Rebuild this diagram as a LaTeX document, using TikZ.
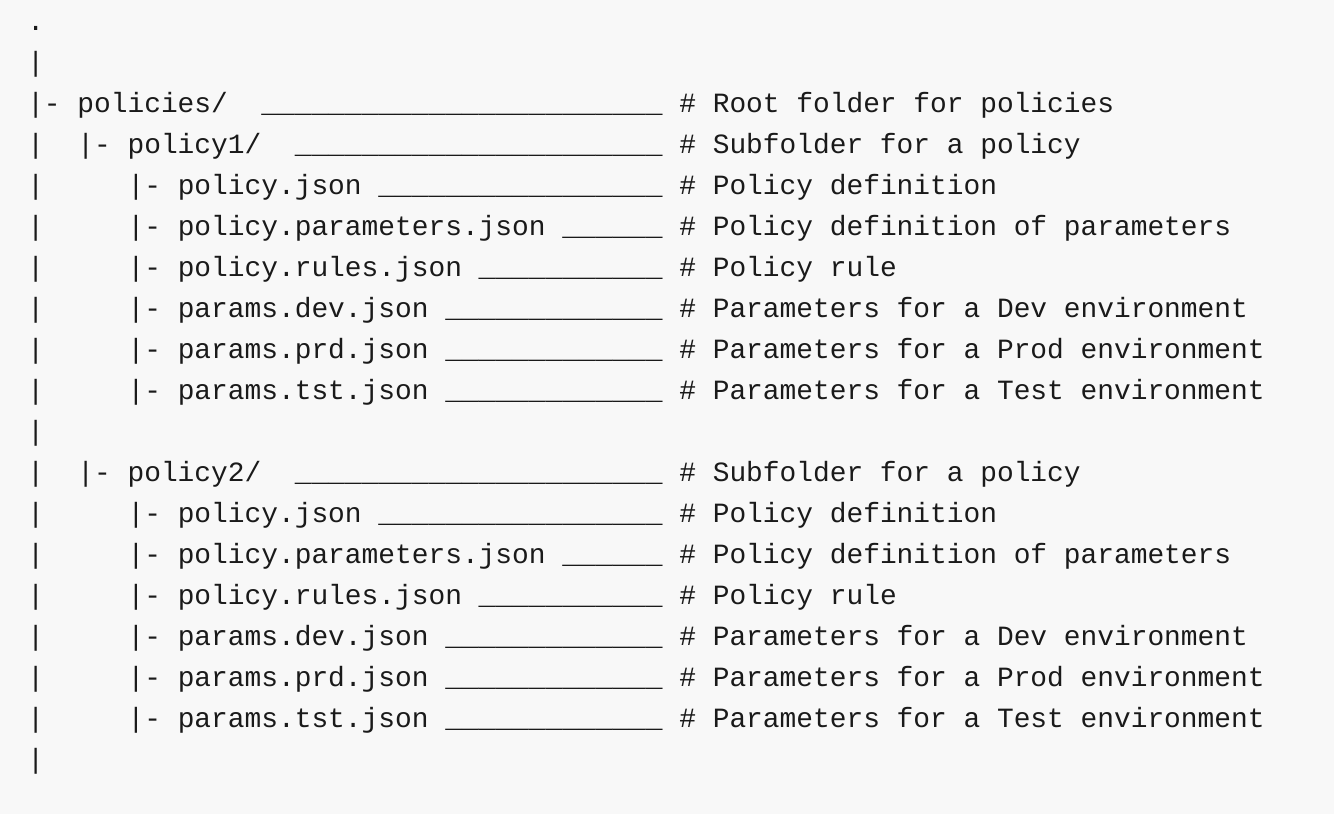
\documentclass[tikz,border=0pt]{standalone}
\usepackage{fontspec}
\newfontfamily\mono{Liberation Mono}
\definecolor{bg}{HTML}{F8F8F8}
\definecolor{fg}{HTML}{1A1A1A}
\newcommand\U[1]{\foreach\i in {1,...,#1}{\_}}
\tikzset{ln/.style={anchor=base west,inner sep=0pt,text=fg,font=\mono\fontsize{20.9}{25}\selectfont}}
\begin{document}
\begin{tikzpicture}[x=0.75pt,y=-0.75pt]
\fill[bg] (0,0) rectangle (1334,814);
\useasboundingbox (0,0) rectangle (1334,814);
\node[ln] (l0) at (27,30) {.};
\node[ln] (l1) at (27,71) {|};
\node[ln] (l2) at (27,112) {|-~policies/~~\U{24}~\#~Root~folder~for~policies};
\node[ln] (l3) at (27,153) {|~~|-~policy1/~~\U{22}~\#~Subfolder~for~a~policy};
\node[ln] (l4) at (27,194) {|~~~~~|-~policy.json~\U{17}~\#~Policy~definition};
\node[ln] (l5) at (27,235) {|~~~~~|-~policy.parameters.json~\U{6}~\#~Policy~definition~of~parameters};
\node[ln] (l6) at (27,276) {|~~~~~|-~policy.rules.json~\U{11}~\#~Policy~rule};
\node[ln] (l7) at (27,317) {|~~~~~|-~params.dev.json~\U{13}~\#~Parameters~for~a~Dev~environment};
\node[ln] (l8) at (27,358) {|~~~~~|-~params.prd.json~\U{13}~\#~Parameters~for~a~Prod~environment};
\node[ln] (l9) at (27,399) {|~~~~~|-~params.tst.json~\U{13}~\#~Parameters~for~a~Test~environment};
\node[ln] (l10) at (27,440) {|};
\node[ln] (l11) at (27,481) {|~~|-~policy2/~~\U{22}~\#~Subfolder~for~a~policy};
\node[ln] (l12) at (27,522) {|~~~~~|-~policy.json~\U{17}~\#~Policy~definition};
\node[ln] (l13) at (27,563) {|~~~~~|-~policy.parameters.json~\U{6}~\#~Policy~definition~of~parameters};
\node[ln] (l14) at (27,604) {|~~~~~|-~policy.rules.json~\U{11}~\#~Policy~rule};
\node[ln] (l15) at (27,645) {|~~~~~|-~params.dev.json~\U{13}~\#~Parameters~for~a~Dev~environment};
\node[ln] (l16) at (27,686) {|~~~~~|-~params.prd.json~\U{13}~\#~Parameters~for~a~Prod~environment};
\node[ln] (l17) at (27,727) {|~~~~~|-~params.tst.json~\U{13}~\#~Parameters~for~a~Test~environment};
\node[ln] (l18) at (27,768) {|};
\end{tikzpicture}
\end{document}
